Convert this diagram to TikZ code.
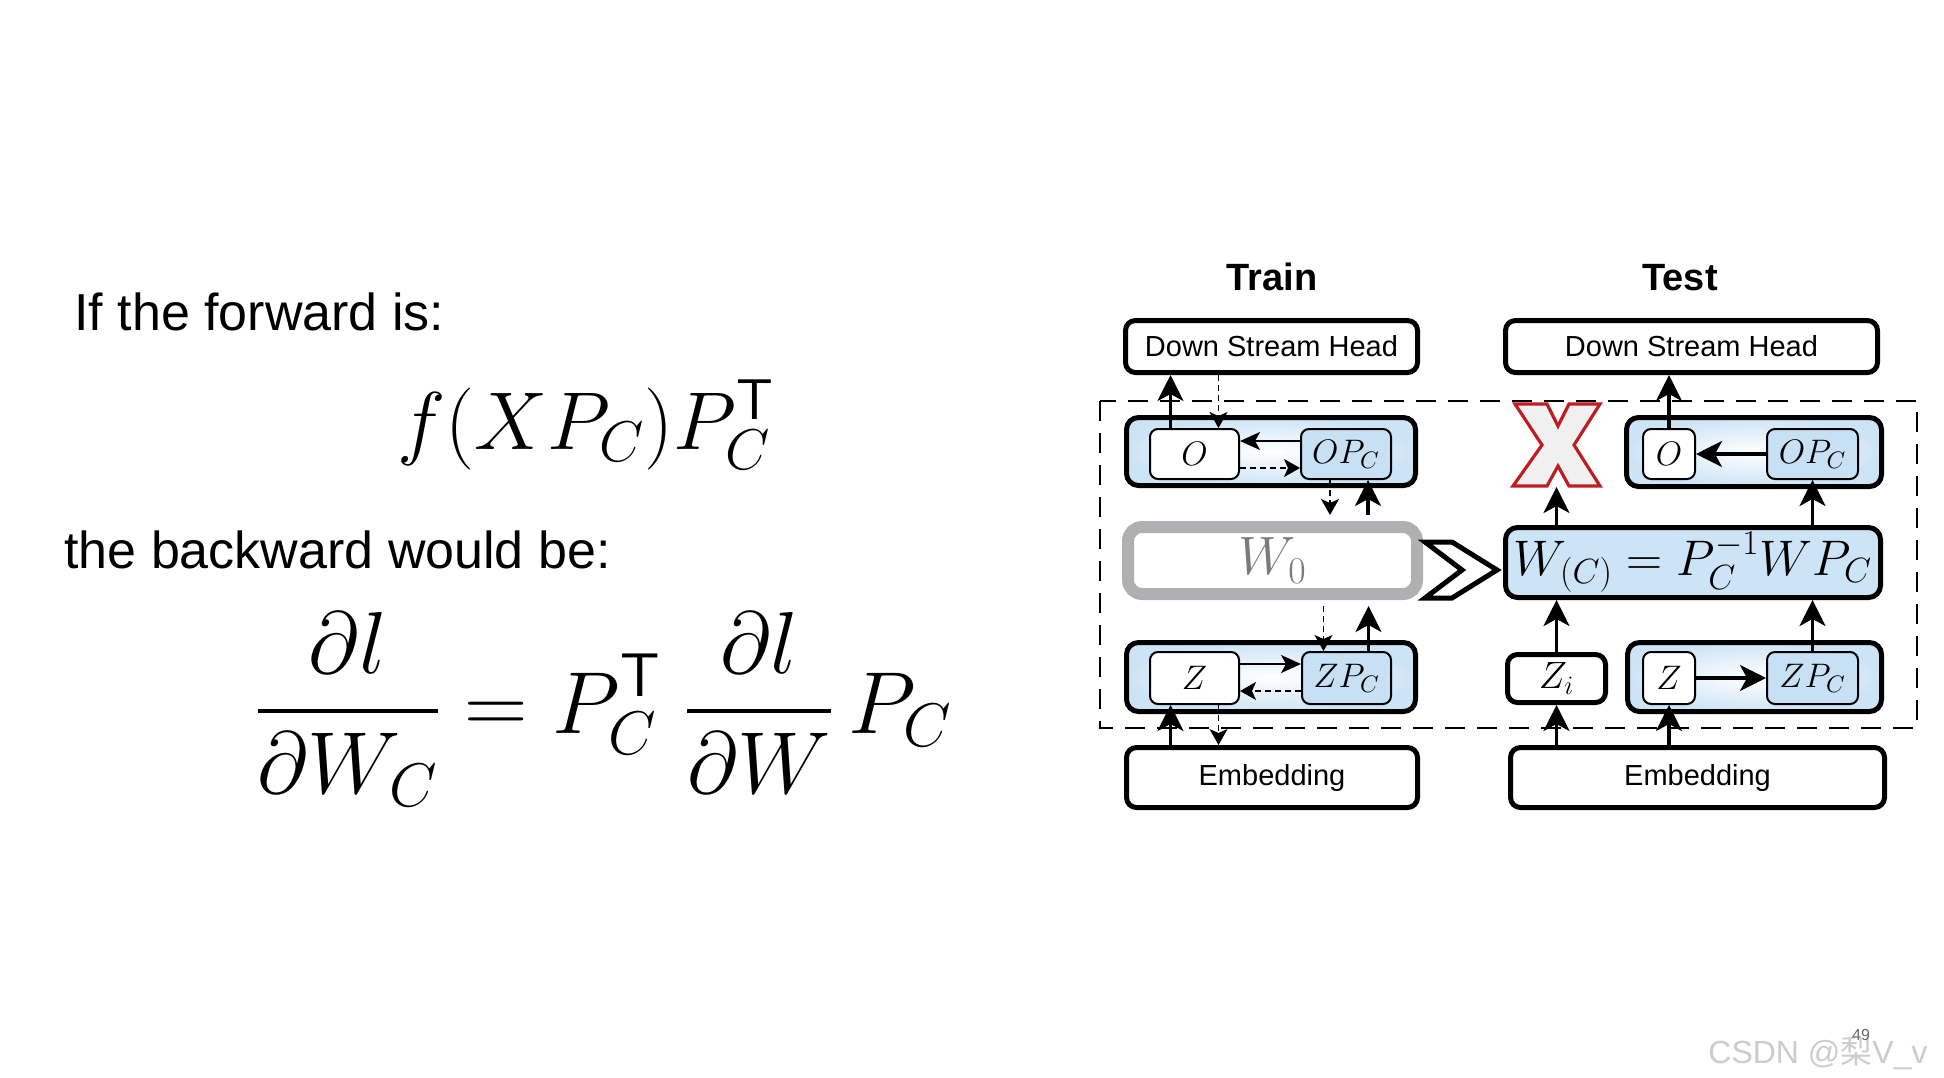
\RequirePackage{fix-cm}
\documentclass[tikz,border=0pt]{standalone}
\usepackage{amsmath}
\usepackage[no-math]{fontspec}
\setmainfont{Liberation Sans}
\newfontfamily\cjk{Noto Sans CJK SC}
\usetikzlibrary{arrows.meta}

\definecolor{boxblue}{RGB}{199,224,244}
\definecolor{wblue}{RGB}{204,228,246}
\definecolor{shadeblue}{RGB}{205,228,246}
\definecolor{wgray}{RGB}{176,176,178}
\definecolor{xred}{RGB}{190,30,35}

\tikzset{
  headbox/.style={draw, line width=2.5pt, rounded corners=5pt, fill=white, inner sep=0pt,
    font=\fontsize{14.5}{17}\selectfont},
  block/.style={draw, line width=2.5pt, rounded corners=6pt, inner color=white,
    outer color=shadeblue, inner sep=0pt},
  small/.style={draw, line width=1pt, rounded corners=4pt, fill=white, inner sep=0pt,
    font=\fontsize{17}{20}\selectfont},
  smallblue/.style={small, fill=boxblue},
  fwd/.style={line width=1.6pt, -{Stealth[length=13pt,width=13pt,inset=3.5pt]}},
  fwdthin/.style={line width=0.9pt, -{Stealth[length=10pt,width=9pt,inset=2.5pt]}},
  bwd/.style={line width=0.9pt, dash pattern=on 3pt off 2pt,
    -{Stealth[length=8pt,width=9pt,inset=2pt]}},
  title/.style={font=\bfseries\fontsize{19}{22}\selectfont, anchor=base, inner sep=0pt},
  slide/.style={font=\fontsize{26}{30}\selectfont, anchor=base west, inner sep=0pt}
}
\newcommand{\bigfrac}[2]{\genfrac{}{}{2.2pt}{0}{#1}{#2}}

\begin{document}
\begin{tikzpicture}[x=0.5pt, y=-0.5pt]
  \useasboundingbox (0,0) rectangle (1944,1077);

  % left: text and formulas
  \node[slide] (fwdtxt) at (74,330) {If the forward is:};
  \node[anchor=base west, inner sep=0pt, font=\fontsize{41}{48}\selectfont] (fwdeq)
    at (397,449) {$f(XP_C)P_C^{\mathsf{T}}$};
  \node[slide] (bwdtxt) at (64,568) {the backward would be:};
  \node[anchor=base west, inner sep=0pt, font=\fontsize{44}{52}\selectfont] (bwdeq)
    at (255,733) {$\displaystyle \bigfrac{\partial l}{\partial W_C} = P_C^{\mathsf{T}}\;\bigfrac{\partial l}{\partial W}\,P_C$};

  % frame round the layers
  \draw[line width=1pt, dash pattern=on 10pt off 6pt] (1100,401) rectangle (1917,728);

  % train
  \node[title] (trtitle) at (1272,290) {Train};
  \node[headbox, minimum width=146pt, minimum height=26pt] (trhead) at (1271.5,346.5) {Down Stream Head};
  \node[block, minimum width=144.5pt, minimum height=34pt] (trOblock) at (1271,451.5) {};
  \node[small, minimum width=44.5pt, minimum height=25pt] (trO) at (1194.5,454) {$O$};
  \node[smallblue, minimum width=45pt, minimum height=25pt] (trOP) at (1346,454) {$OP_C$};
  \node[draw=wgray, line width=6pt, rounded corners=7pt, fill=white, inner sep=0pt,
    minimum width=144.5pt, minimum height=33.5pt, text=black!52,
    font=\fontsize{27}{30}\selectfont] (trW) at (1272.5,560.5) {$W_0$};
  \node[block, minimum width=144.5pt, minimum height=34.5pt] (trZblock) at (1271,677) {};
  \node[small, minimum width=44.5pt, minimum height=26pt] (trZ) at (1194.5,678) {$Z$};
  \node[smallblue, minimum width=44.5pt, minimum height=26pt] (trZP) at (1346.5,678) {$ZP_C$};
  \node[headbox, minimum width=145.5pt, minimum height=30pt] (trEmb) at (1272,777.5) {Embedding};

  % test
  \node[title] (tstitle) at (1680,290) {Test};
  \node[headbox, minimum width=186pt, minimum height=26pt] (tshead) at (1691.5,346.5) {Down Stream Head};
  \node[block, minimum width=127.5pt, minimum height=34.5pt] (tsOblock) at (1754,452) {};
  \node[small, minimum width=26pt, minimum height=25pt] (tsO) at (1669,454) {$O$};
  \node[smallblue, minimum width=45.5pt, minimum height=25pt] (tsOP) at (1812.5,454) {$OP_C$};
  \node[draw, line width=2.5pt, rounded corners=6pt, fill=wblue, inner sep=0pt,
    minimum width=187.5pt, minimum height=35pt,
    font=\fontsize{25}{28}\selectfont] (tsW) at (1693,562.5) {$W_{(C)} = P_C^{-1}WP_C$};
  \node[headbox, minimum width=49pt, minimum height=24pt,
    font=\fontsize{19}{22}\selectfont] (tsZi) at (1556.5,678.5) {$Z_i$};
  \node[block, minimum width=127pt, minimum height=34.5pt] (tsZblock) at (1754.5,677) {};
  \node[small, minimum width=26pt, minimum height=26pt] (tsZ) at (1669,678) {$Z$};
  \node[smallblue, minimum width=45.5pt, minimum height=26pt] (tsZP) at (1812.5,678) {$ZP_C$};
  \node[headbox, minimum width=187pt, minimum height=30pt] (tsEmb) at (1697.5,777.5) {Embedding};

  % crossed out output
  \draw[xred, line width=1.6pt, fill=black!6, line join=miter]
    (1515,404) -- (1547,404) -- (1558,426) -- (1569,404) -- (1600,404) -- (1574,445)
    -- (1600,486) -- (1569,486) -- (1558,466) -- (1547,486) -- (1513,486) -- (1542,445) -- cycle;
  \coordinate (xmark) at (1557,487);

  % train to test
  \draw[line width=2.5pt, fill=white, line join=miter]
    (1425,542) -- (1452,542) -- (1497,570) -- (1452,598) -- (1425,598) -- (1462,570) -- cycle;

  % train arrows
  \draw[fwd] ([xshift=-12pt]trO.north) -- ([xshift=-12pt]trO.north |- trhead.south);
  \draw[bwd] ([xshift=12pt]trO.north |- trhead.south) -- ([xshift=12pt]trO.north);
  \draw[fwdthin] ([yshift=6.5pt]trOP.west) -- ([yshift=6.5pt]trOP.west -| trO.east);
  \draw[bwd] ([yshift=-7pt]trO.east) -- ([yshift=-7pt]trO.east -| trOP.west);
  \draw[bwd, shorten >=3pt] ([xshift=-8pt]trOP.south) -- ([xshift=-8pt]trOP.south |- trW.north);
  \draw[fwd, shorten <=3pt] ([xshift=11pt]trOP.south |- trW.north) -- ([xshift=11pt]trOP.south);
  \draw[bwd, shorten <=3pt] ([xshift=-11.5pt]trZP.north |- trW.south) -- ([xshift=-11.5pt]trZP.north);
  \draw[fwd, shorten >=3pt] ([xshift=11pt]trZP.north) -- ([xshift=11pt]trZP.north |- trW.south);
  \draw[fwdthin] ([yshift=7pt]trZ.east) -- ([yshift=7pt]trZ.east -| trZP.west);
  \draw[bwd] ([yshift=-6.5pt]trZP.west) -- ([yshift=-6.5pt]trZP.west -| trZ.east);
  \draw[fwd] ([xshift=-12pt]trZ.south |- trEmb.north) -- ([xshift=-12pt]trZ.south);
  \draw[bwd] ([xshift=12pt]trZ.south) -- ([xshift=12pt]trZ.south |- trEmb.north);

  % test arrows
  \draw[fwd] (tsO.north) -- (tsO.north |- tshead.south);
  \draw[fwd] (tsOP.west) -- (tsO.east);
  \draw[fwd] (tsOP.south |- tsW.north) -- (tsOP.south);
  \draw[fwd] (tsZi.north |- tsW.north) -- (tsZi.north |- xmark);
  \draw[fwd] (tsZi.north) -- (tsZi.north |- tsW.south);
  \draw[fwd] (tsZP.north) -- (tsZP.north |- tsW.south);
  \draw[fwd] (tsZ.east) -- (tsZP.west);
  \draw[fwd] (tsZi.south |- tsEmb.north) -- (tsZi.south);
  \draw[fwd] (tsZ.south |- tsEmb.north) -- (tsZ.south);

  % watermark
  \node[anchor=base west, inner sep=0pt, text=black!20, font=\fontsize{16}{19}\selectfont] (mark)
    at (1708,1063) {CSDN @{\cjk 梨}V\_v};
  \node[anchor=base, inner sep=0pt, text=black!60, font=\fontsize{8}{9}\selectfont] (pageno)
    at (1861,1040) {49};
\end{tikzpicture}
\end{document}
